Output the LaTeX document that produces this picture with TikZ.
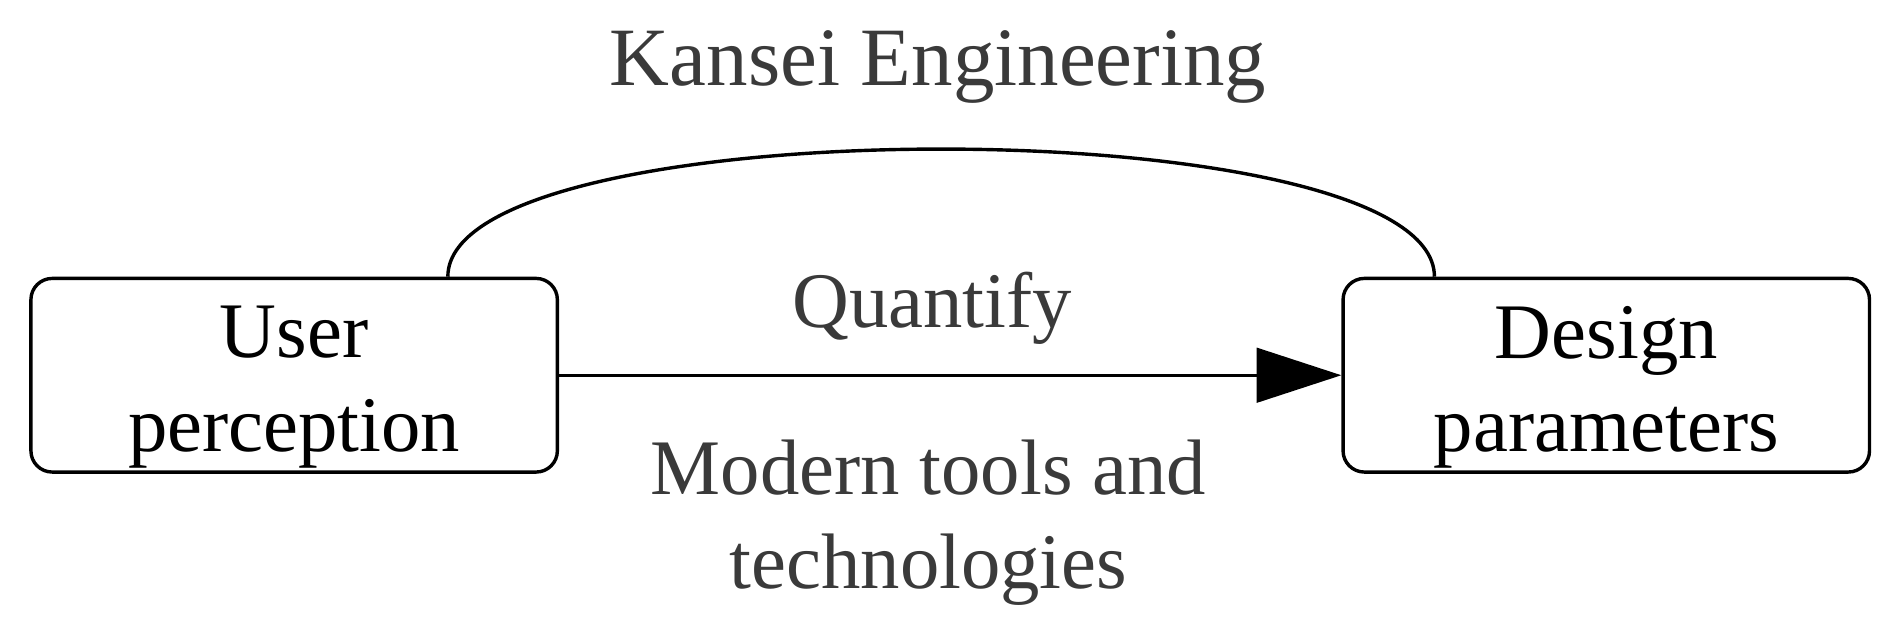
\documentclass[tikz,border=0pt]{standalone}
\usepackage{fontspec}
\setmainfont{Liberation Serif}
\usetikzlibrary{arrows.meta,calc}
\definecolor{txt}{HTML}{3A3A3A}
\begin{document}
\begin{tikzpicture}[x=0.02cm,y=-0.02cm,
  box/.style={draw=black,line width=1.6pt,rounded corners=10pt,minimum width=8.7cm,minimum height=3.2cm,inner sep=0pt,align=center,font=\fontsize{37}{44}\selectfont,text=black},
  lbl/.style={align=center,font=\fontsize{37}{44}\selectfont,text=txt},
  conn/.style={line width=1.6pt,black}]
\useasboundingbox (0,0) rectangle (1568,519);
\node[box] (a) at (243,310) {};
\node[box] (b) at (1327,310) {};
\node[lbl,text=black] (at) at (243,320) {User\\perception};
\node[lbl,text=black] (bt) at (1327,320) {Design\\parameters};
\node[lbl,font=\fontsize{39}{46}\selectfont] (k) at (775,55) {Kansei Engineering};
\node[lbl] (q) at (770,255) {Quantify};
\node[lbl] (m) at (767,432) {Modern tools and\\technologies};
\draw[conn,-{Triangle[length=1.4cm,width=0.9cm]}] (a.east) -- (b.west);
\coordinate (s) at ([xshift=2.54cm]a.north);
\coordinate (e) at ([xshift=-2.84cm]b.north);
\draw[conn] (s) .. controls (370,88) and (1185,88) .. (e);
\end{tikzpicture}
\end{document}
